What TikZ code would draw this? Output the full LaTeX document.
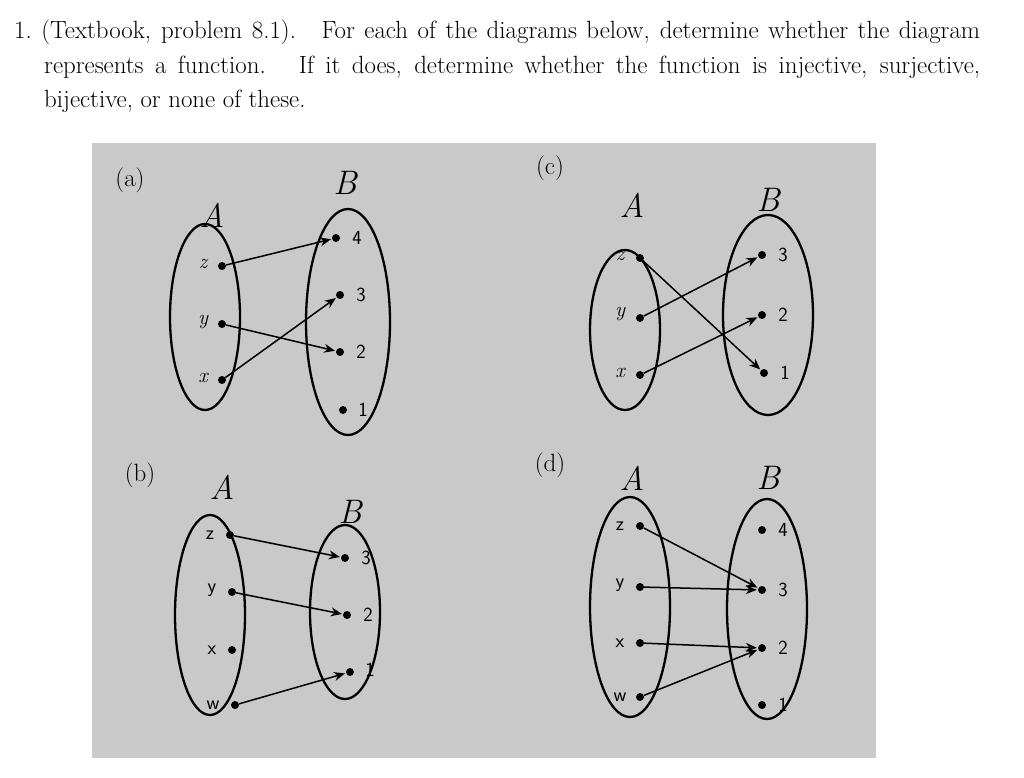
\documentclass[tikz,border=0pt]{standalone}
\usepackage{fontspec}
\usetikzlibrary{arrows.meta}
\begin{document}
\begin{tikzpicture}[x=1pt,y=-1pt,
  dot/.style={circle,fill=black,inner sep=0pt,minimum size=8pt},
  set/.style={draw=black,line width=2.3pt},
  map/.style={-{Stealth[length=11pt,width=9pt]},line width=1.5pt,shorten >=1pt},
  tag/.style={font=\fontsize{25}{25}\selectfont},
  lbl/.style={font=\fontsize{21}{21}\selectfont},
  num/.style={font=\sffamily\fontsize{20}{20}\selectfont},
  big/.style={font=\itshape\fontsize{34}{34}\selectfont}]
\useasboundingbox (0,0) rectangle (1024,778);
\fill[white] (0,0) rectangle (1024,778);
\node[anchor=north west,align=left,font=\fontsize{24.9}{34.5}\selectfont,inner sep=0pt] (txt) at (14,20)
{\makebox[966pt][s]{1.\ (Textbook, problem 8.1). \ For each of the diagrams below, determine whether the diagram}\\
\hspace*{30pt}\makebox[936pt][s]{represents a function. \ If it does, determine whether the function is injective, surjective,}\\
\hspace*{30pt}bijective, or none of these.};
\fill[gray!42] (92,143) rectangle (876,758);
% (a)
\node[tag] (la) at (130,180) {(a)};
\node[big] (Aa) at (212,215) {A};
\node[big] (Ba) at (345,183) {B};
\draw[set] (205,317) ellipse [x radius=35,y radius=93];
\draw[set] (348,322) ellipse [x radius=42,y radius=113];
\node[dot] (az) at (222,266) {}; \node[lbl] at (203,264) {\itshape z};
\node[dot] (ay) at (222,324) {}; \node[lbl] at (203,322) {\itshape y};
\node[dot] (ax) at (222,380) {}; \node[lbl] at (203,378) {\itshape x};
\node[dot] (a4) at (336,238) {}; \node[num] at (357,238) {4};
\node[dot] (a3) at (340,295) {}; \node[num] at (361,295) {3};
\node[dot] (a2) at (340,352) {}; \node[num] at (361,352) {2};
\node[dot] (a1) at (343,410) {}; \node[num] at (363,410) {1};
\draw[map] (az) -- (a4); \draw[map] (ay) -- (a2); \draw[map] (ax) -- (a3);
% (c)
\node[tag] (lc) at (550,168) {(c)};
\node[big] (Ac) at (632,205) {A};
\node[big] (Bc) at (768,200) {B};
\draw[set] (625,330) ellipse [x radius=35,y radius=80];
\draw[set] (768,315) ellipse [x radius=45,y radius=100];
\node[dot] (cz) at (640,258) {}; \node[lbl] at (620,256) {\itshape z};
\node[dot] (cy) at (640,318) {}; \node[lbl] at (620,314) {\itshape y};
\node[dot] (cx) at (640,375) {}; \node[lbl] at (620,373) {\itshape x};
\node[dot] (c3) at (762,255) {}; \node[num] at (783,255) {3};
\node[dot] (c2) at (762,315) {}; \node[num] at (783,315) {2};
\node[dot] (c1) at (764,373) {}; \node[num] at (785,373) {1};
\draw[map] (cz) -- (c1); \draw[map] (cy) -- (c3); \draw[map] (cx) -- (c2);
% (b)
\node[tag] (lb) at (140,475) {(b)};
\node[big] (Ab) at (222,487) {A};
\node[big] (Bb) at (350,512) {B};
\draw[set] (210,615) ellipse [x radius=35,y radius=100];
\draw[set] (345,612) ellipse [x radius=35,y radius=87];
\node[dot] (bz) at (230,535) {}; \node[num] at (210,535) {z};
\node[dot] (by) at (232,592) {}; \node[num] at (212,590) {y};
\node[dot] (bx) at (232,650) {}; \node[num] at (212,650) {x};
\node[dot] (bw) at (235,705) {}; \node[num] at (213,705) {w};
\node[dot] (b3) at (345,558) {}; \node[num] at (366,558) {3};
\node[dot] (b2) at (347,615) {}; \node[num] at (368,615) {2};
\node[dot] (b1) at (350,672) {}; \node[num] at (370,670) {1};
\draw[map] (bz) -- (b3); \draw[map] (by) -- (b2); \draw[map] (bw) -- (b1);
% (d)
\node[tag] (ld) at (550,465) {(d)};
\node[big] (Ad) at (632,478) {A};
\node[big] (Bd) at (768,478) {B};
\draw[set] (630,607) ellipse [x radius=40,y radius=110];
\draw[set] (767,609) ellipse [x radius=40,y radius=110];
\node[dot] (dz) at (640,526) {}; \node[num] at (620,526) {z};
\node[dot] (dy) at (640,587) {}; \node[num] at (620,585) {y};
\node[dot] (dx) at (640,643) {}; \node[num] at (620,643) {x};
\node[dot] (dw) at (640,697) {}; \node[num] at (620,697) {w};
\node[dot] (d4) at (762,530) {}; \node[num] at (783,530) {4};
\node[dot] (d3) at (762,590) {}; \node[num] at (783,590) {3};
\node[dot] (d2) at (762,648) {}; \node[num] at (783,648) {2};
\node[dot] (d1) at (762,705) {}; \node[num] at (783,705) {1};
\draw[map] (dz) -- (d3); \draw[map] (dy) -- (d3); \draw[map] (dx) -- (d2); \draw[map] (dw) -- (d2);
\end{tikzpicture}
\end{document}
